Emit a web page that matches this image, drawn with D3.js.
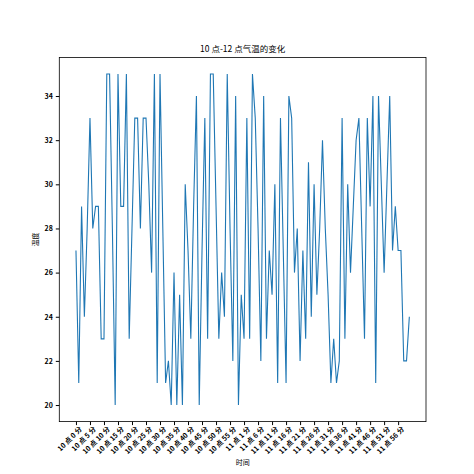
<!DOCTYPE html>
<html><head><meta charset="utf-8">
<script src="https://cdn.jsdelivr.net/npm/d3@7"></script>
<style>body{margin:0;background:#fff}text{font-family:"Noto Sans CJK SC","DejaVu Sans",sans-serif}</style>
</head><body><svg id="c" width="474" height="474"></svg>
<script>
const temps=[27,21,29,24,28,33,28,29,29,23,23,35,35,28,20,35,29,29,35,23,
28,33,33,28,33,33,30,26,35,21,35,28,21,22,20,26,20,25,20,30,
27,23,29,34,20,27,33,23,35,35,29,23,26,24,35,28,22,34,20,25,
23,33,23,35,33,28,22,34,23,27,25,30,21,33,27,21,34,33,26,28,
22,27,23,31,24,30,25,28,32,28,25,21,23,21,22,33,23,30,26,29,
32,33,28,23,33,29,34,21,34,30,26,30,34,27,29,27,27,22,22,24];
const labels=[];
for(let i=0;i<60;i++)labels.push("10 点 "+i+" 分");
for(let i=1;i<=60;i++)labels.push("11 点 "+i+" 分");
const yTicks=[20,22,24,26,28,30,32,34];
const svg=d3.select("#c");
const L=59.3,R=426,T=57.4,B=421.6;
const x=d3.scaleLinear().domain([-5.95,124.95]).range([L,R]);
const y=d3.scaleLinear().domain([19.25,35.75]).range([B,T]);
const tickIdx=d3.range(0,120,5);
const xa=svg.append("g").attr("transform",`translate(0,${B})`)
 .call(d3.axisBottom(x).tickValues(tickIdx).tickFormat(i=>labels[i]).tickSize(3.5).tickSizeOuter(0));
xa.selectAll("text").attr("transform","rotate(-45)").attr("text-anchor","end").attr("dx","-0.2em").attr("dy","0.5em").style("font-size","7px").style("font-weight","bold");
const ya=svg.append("g").attr("transform",`translate(${L},0)`)
 .call(d3.axisLeft(y).tickValues(yTicks).tickSize(3.5).tickSizeOuter(0));
ya.selectAll("text").style("font-size","7px").style("font-weight","bold");
svg.selectAll(".domain").remove();
svg.append("rect").attr("x",L).attr("y",T).attr("width",R-L).attr("height",B-T).attr("fill","none").attr("stroke","#000").attr("stroke-width",0.8);
svg.append("path").datum(temps).attr("fill","none").attr("stroke","#1f77b4").attr("stroke-width",1.1)
 .attr("d",d3.line().x((d,i)=>x(i)).y(d=>y(d)));
svg.append("text").attr("x",(L+R)/2).attr("y",52).attr("text-anchor","middle").style("font-size","8.5px").text("10 点-12 点气温的变化");
svg.append("text").attr("x",(L+R)/2).attr("y",465).attr("text-anchor","middle").style("font-size","7px").text("时间");
svg.append("text").attr("transform",`translate(38,${(T+B)/2}) rotate(-90)`).attr("text-anchor","middle").style("font-size","7px").text("温度");
</script></body></html>
